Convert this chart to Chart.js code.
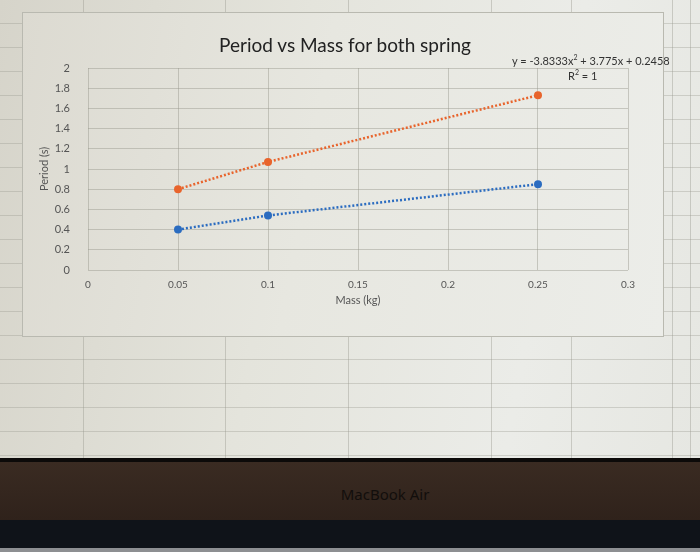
<!DOCTYPE html>
<html>
<head>
<meta charset="utf-8">
<script src="https://cdn.jsdelivr.net/npm/chart.js@4.4.1/dist/chart.umd.min.js"></script>
<style>
    body { margin: 0; width: 700px; height: 552px; overflow: hidden; font-family: Lato, 'Open Sans', sans-serif; }
    .screen {
        position: absolute; left: 0; top: 0; width: 700px; height: 458px;
        background:
            repeating-linear-gradient(to bottom, transparent 0, transparent 23px, rgba(150,150,140,0.35) 23px, rgba(150,150,140,0.35) 24px),
            linear-gradient(100deg, #d6d4ca 0%, #e4e4dc 40%, #ebece8 75%, #e6e7e2 100%);
    }
    .col { position: absolute; top: 0; width: 1px; height: 458px; background: rgba(150,150,140,0.4); }
    .chartBox {
        position: absolute; left: 22px; top: 12px; width: 640px; height: 323px;
        border: 1px solid #b9b9b0;
        background: linear-gradient(100deg, #dcdad1 0%, #e7e7e0 45%, #ecede9 100%);
    }
    #wrap { position: absolute; left: 0; top: 0; width: 700px; height: 458px; }
    .title {
        position: absolute; left: 145px; width: 400px; top: 33px; text-align: center;
        font-size: 19px; color: #222; line-height: 23px;
    }
    .eq { position: absolute; font-size: 11px; color: #333; white-space: nowrap; }
    .eq sup { font-size: 7px; }
    .bezel {
        position: absolute; left: 0; top: 458px; width: 700px; height: 62px;
        border-top: 4px solid #0c0a09;
        background: linear-gradient(to bottom, #3a2b22, #2f221b);
        box-sizing: border-box;
    }
    .bezel span {
        position: absolute; left: 0; width: 770px; top: 22px; text-align: center;
        font-size: 15px; color: #120e0c; font-family: 'Noto Sans', sans-serif;
    }
    .base { position: absolute; left: 0; top: 520px; width: 700px; height: 28px; background: #0f1319; }
    .edge { position: absolute; left: 0; top: 548px; width: 700px; height: 4px; background: #8d8f92; }
</style>
</head>
<body>
<div class="screen"></div>
<div class="col" style="left:83px"></div>
<div class="col" style="left:225px"></div>
<div class="col" style="left:348px"></div>
<div class="col" style="left:491px"></div>
<div class="col" style="left:571px"></div>
<div class="col" style="left:672px"></div>
<div class="col" style="left:690px"></div>
<div class="chartBox"></div>
<div id="wrap"><canvas id="periodChart"></canvas></div>
<div class="title">Period vs Mass for both spring</div>
<div class="eq" style="left:512px; top:53px;">y = -3.8333x<sup>2</sup> + 3.775x + 0.2458</div>
<div class="eq" style="left:568px; top:68px;">R<sup>2</sup> = 1</div>
<div class="bezel"><span>MacBook Air</span></div>
<div class="base"></div>
<div class="edge"></div>

<script>
// Данные
const masses = [0.05, 0.1, 0.25];
const periodSpringA = [0.80, 1.07, 1.73];
const periodSpringB = [0.40, 0.54, 0.85];

function toPoints(xs, ys) {
    return xs.map((x, i) => ({ x: x, y: ys[i] }));
}

const gridColor = 'rgba(150, 150, 140, 0.45)';
const textColor = '#555';

const ctx = document.getElementById('periodChart').getContext('2d');
const periodChart = new Chart(ctx, {
    type: 'scatter',
    data: {
        datasets: [{
            label: 'Spring 1',
            data: toPoints(masses, periodSpringA),
            showLine: true,
            borderColor: '#e8642c',
            backgroundColor: '#e8642c',
            borderWidth: 2.5,
            borderDash: [2, 2],
            pointRadius: 4,
            pointBorderWidth: 0
        }, {
            label: 'Spring 2',
            data: toPoints(masses, periodSpringB),
            showLine: true,
            borderColor: '#2b6cc0',
            backgroundColor: '#2b6cc0',
            borderWidth: 2.5,
            borderDash: [2, 2],
            pointRadius: 4,
            pointBorderWidth: 0
        }]
    },
    options: {
        responsive: true,
        maintainAspectRatio: false,
        animation: false,
        layout: { padding: { left: 34, right: 72, top: 68, bottom: 147 } },
        plugins: {
            legend: { display: false },
            tooltip: { enabled: false }
        },
        scales: {
            x: {
                type: 'linear',
                min: 0,
                max: 0.3,
                afterFit: (scale) => { scale.height = 41; },
                grid: { color: gridColor, drawTicks: false },
                border: { display: false },
                ticks: {
                    stepSize: 0.05,
                    padding: 9,
                    color: textColor,
                    font: { family: 'Lato', size: 10 },
                    callback: (v) => String(parseFloat(v.toFixed(2)))
                },
                title: {
                    display: true,
                    text: 'Mass (kg)',
                    color: textColor,
                    font: { family: 'Lato', size: 11 }
                }
            },
            y: {
                min: 0,
                max: 2,
                afterFit: (scale) => { scale.width = 54; },
                grid: { color: gridColor, drawTicks: false },
                border: { display: false },
                ticks: {
                    stepSize: 0.2,
                    padding: 18,
                    color: textColor,
                    font: { family: 'Lato', size: 11 },
                    callback: (v) => String(parseFloat(v.toFixed(1)))
                },
                title: {
                    display: true,
                    text: 'Period (s)',
                    color: textColor,
                    font: { family: 'Lato', size: 11 }
                }
            }
        }
    }
});
</script>
</body>
</html>
